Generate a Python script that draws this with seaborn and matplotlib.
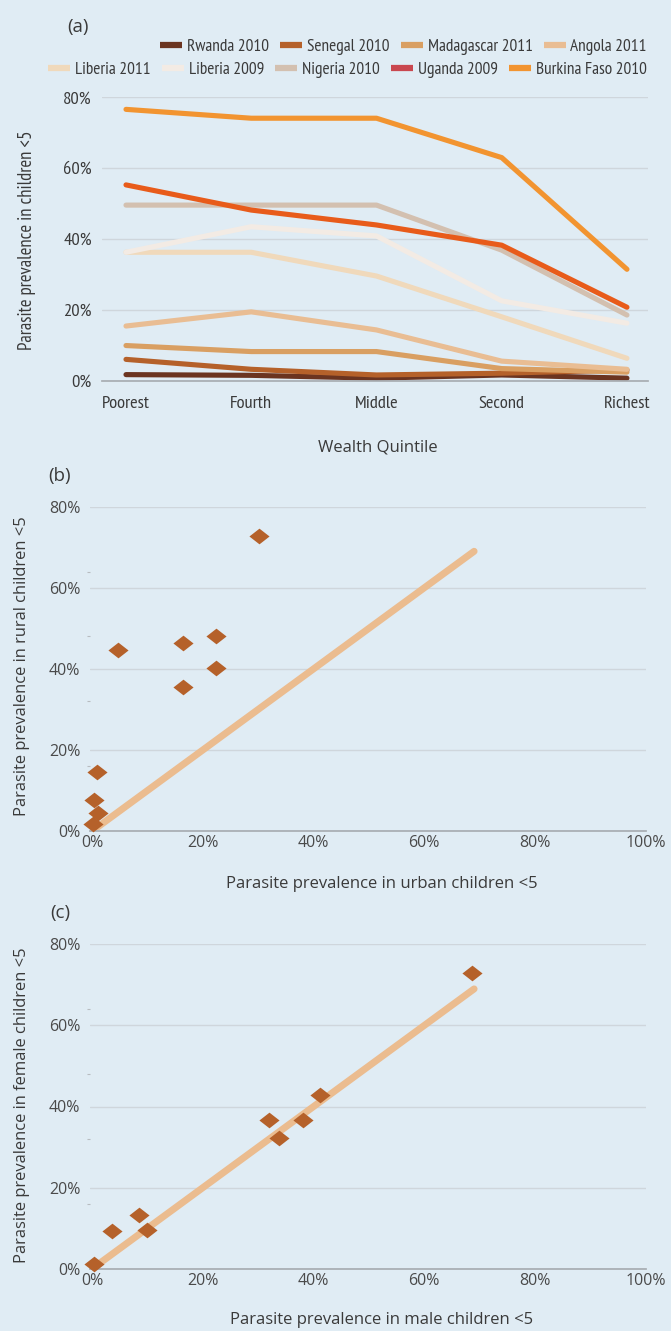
import matplotlib
matplotlib.use("Agg")
import matplotlib.pyplot as plt
import seaborn as sns
import numpy as np
import pandas as pd
from matplotlib import font_manager as fm
from matplotlib.lines import Line2D
from matplotlib.textpath import TextPath
from matplotlib.ticker import PercentFormatter, FixedLocator

# ---- data ----
quintiles = ["Poorest", "Fourth", "Middle", "Second", "Richest"]
countries = ["Rwanda 2010", "Senegal 2010", "Madagascar 2011", "Angola 2011",
             "Liberia 2011", "Liberia 2009", "Nigeria 2010", "Uganda 2009",
             "Burkina Faso 2010"]
rwanda_2010 = [1.8, 1.6, 0.8, 1.7, 0.8]
senegal_2010 = [6.1, 3.3, 1.7, 2.2, 3.1]
madagascar_2011 = [10.0, 8.3, 8.3, 3.5, 2.5]
angola_2011 = [15.5, 19.5, 14.4, 5.6, 3.3]
liberia_2011 = [36.3, 36.3, 29.6, 18.1, 6.4]
liberia_2009 = [36.3, 43.5, 40.9, 22.6, 16.3]
nigeria_2010 = [49.6, 49.6, 49.6, 36.9, 18.6]
uganda_2009 = [55.3, 48.2, 44.0, 38.3, 20.8]
burkina_2010 = [76.6, 74.1, 74.1, 63.0, 31.5]

urban = [30.1, 4.6, 16.4, 22.3, 22.3, 16.4, 0.9, 0.3, 1.1, 0.1]
rural = [72.8, 44.7, 46.3, 48.0, 40.2, 35.5, 14.5, 7.7, 4.4, 1.7]

male = [0.4, 3.5, 8.5, 9.9, 32.0, 33.8, 38.1, 41.1, 68.7]
female = [1.2, 9.4, 13.3, 9.5, 36.7, 32.3, 36.7, 42.9, 72.9]

equal_line = [1, 69]

PX = 100 / 72  # pixels per point


def path_size(text, prop):
    ext = TextPath((0, 0), text, prop=prop).get_extents()
    return ext.width, ext.height


def pick_narrow_file(target_ratio=6.3):
    """condensed, proportional, regular-weight face closest to the reference look"""
    best = None
    for f in fm.fontManager.ttflist:
        st = str(f.stretch)
        narrow = ("Narrow" in f.name or "Condensed" in f.name
                  or st in ("condensed", "semi-condensed", "extra-condensed"))
        w = f.weight if isinstance(f.weight, int) else 400
        if (not narrow or "Mono" in f.name or "Mono" in f.fname
                or f.style != "normal" or not (350 <= w <= 520)):
            continue
        try:
            prop = fm.FontProperties(fname=f.fname, size=12)
            wd, _ = path_size("Rwanda 2010", prop)
            _, ht = path_size("0", prop)
        except Exception:
            continue
        score = abs(wd / ht - target_ratio) + abs(w - 400) / 1000
        if best is None or score < best[0]:
            best = (score, f.fname)
    return None if best is None else best[1]


narrow_file = pick_narrow_file()


def narrow_prop(size):
    if narrow_file:
        return fm.FontProperties(fname=narrow_file, size=size)
    return fm.FontProperties(family=["Roboto", "DejaVu Sans"], size=size)


def reg_prop(size):
    return fm.FontProperties(family=["Open Sans", "DejaVu Sans"], size=size)


def fit_size(text, target_px, make_prop, base=12.0):
    w, _ = path_size(text, make_prop(base))
    return base * target_px / (w * PX)


leg_size = 0.5 * (fit_size("Rwanda 2010", 82, narrow_prop)
                  + fit_size("Burkina Faso 2010", 107, narrow_prop))
tick_a_size = leg_size * 1.07
ylab_a_size = fit_size("Parasite prevalence in children <5", 215, narrow_prop)
xlab_size = fit_size("Parasite prevalence in urban children <5", 310, reg_prop)
ylab_size = fit_size("Parasite prevalence in rural children <5", 298, reg_prop)

# ---- style ----
BG = "#e0ecf4"
GRID = "#cfd6dc"
TXT = "#3a3a3a"
REG = ["Open Sans", "DejaVu Sans"]

line_colors = ["#6b3420", "#b5612a", "#d99f62", "#e9bd93", "#f0d9bb",
               "#f3ebe4", "#d3c0b0", "#e85b1a", "#f29430"]
legend_colors = line_colors.copy()
legend_colors[7] = "#c9474f"
point_color = "#b5612a"
fit_color = "#ebbc8f"

sns.set_theme(style="white")
plt.rcParams["font.family"] = REG
plt.rcParams["axes.facecolor"] = BG
plt.rcParams["figure.facecolor"] = BG

series = [rwanda_2010, senegal_2010, madagascar_2011, angola_2011, liberia_2011,
          liberia_2009, nigeria_2010, uganda_2009, burkina_2010]
df = pd.DataFrame({
    "quintile": quintiles * len(countries),
    "country": np.repeat(countries, len(quintiles)),
    "value": np.concatenate(series),
})

fig = plt.figure(figsize=(6.71, 13.31), dpi=100)
W, H = 671, 1331


def box(left, right, top, bottom):
    return [left / W, 1 - bottom / H, (right - left) / W, (bottom - top) / H]


# ---- panel (a) ----
ax1 = fig.add_axes(box(101.7, 648, 97.3, 381))
sns.lineplot(data=df, x="quintile", y="value", hue="country", hue_order=countries,
             palette=line_colors, sort=False, linewidth=3.7, legend=False, ax=ax1,
             solid_capstyle="round")
ax1.set_xlim(-0.194, 4.168)
ax1.set_ylim(0, 80)
ax1.set_yticks([0, 20, 40, 60, 80])
ax1.yaxis.set_major_formatter(PercentFormatter(decimals=0))
ax1.grid(axis="y", color=GRID, linewidth=1)
ax1.set_axisbelow(True)
for s in ["top", "right", "left"]:
    ax1.spines[s].set_visible(False)
ax1.spines["bottom"].set_color("#a8adb2")
ax1.tick_params(axis="x", length=5, width=0.8, color="#a8adb2", direction="out",
                pad=6, labelcolor=TXT)
ax1.tick_params(axis="y", length=0, pad=7, labelcolor=TXT)
for lab in ax1.get_xticklabels() + ax1.get_yticklabels():
    lab.set_fontproperties(narrow_prop(tick_a_size))
ax1.set_xlabel("")
ax1.set_ylabel("")

# two legend rows: 4 entries on top, 5 below, both right-aligned
fpx = leg_size * PX
handles = [Line2D([], [], color=c, linewidth=4.5, solid_capstyle="butt")
           for c in legend_colors]
leg_kw = dict(frameon=False, prop=narrow_prop(leg_size), handlelength=22 / fpx,
              handletextpad=5 / fpx, columnspacing=11 / fpx, borderpad=0,
              borderaxespad=0, loc="center right", labelcolor=TXT)
fig.legend(handles[:4], countries[:4], ncol=4,
           bbox_to_anchor=(647 / W, 1 - 47 / H), **leg_kw)
fig.legend(handles[4:], countries[4:], ncol=5,
           bbox_to_anchor=(647 / W, 1 - 70 / H), **leg_kw)

fig.text(67 / W, 1 - 27 / H, "(a)", fontsize=13.5, color=TXT, va="center", family=REG)
fig.text(27 / W, 1 - 240 / H, "Parasite prevalence in children <5", rotation=90,
         color=TXT, va="center", ha="center", fontproperties=narrow_prop(ylab_a_size))
fig.text(378 / W, 1 - 447 / H, "Wealth Quintile", color=TXT,
         va="center", ha="center", fontproperties=reg_prop(xlab_size))

# ---- panels (b) and (c) ----
diamond = [(-1, 0), (0, 0.78), (1, 0), (0, -0.78), (-1, 0)]


def scatter_panel(ax, xs, ys):
    sns.lineplot(x=equal_line, y=equal_line, color=fit_color, linewidth=5,
                 ax=ax, solid_capstyle="round")
    sns.scatterplot(x=xs, y=ys, marker=diamond, s=210, color=point_color,
                    linewidth=0, ax=ax, clip_on=False, zorder=5)
    ax.set_xlim(-0.4, 100)
    ax.set_ylim(0, 80)
    ax.set_xticks([0, 20, 40, 60, 80, 100])
    ax.set_yticks([0, 20, 40, 60, 80])
    ax.yaxis.set_minor_locator(FixedLocator([16, 32, 48, 64]))
    ax.xaxis.set_major_formatter(PercentFormatter(decimals=0))
    ax.yaxis.set_major_formatter(PercentFormatter(decimals=0))
    ax.grid(axis="y", which="major", color=GRID, linewidth=1)
    ax.set_axisbelow(True)
    for s in ["top", "right", "left"]:
        ax.spines[s].set_visible(False)
    ax.spines["bottom"].set_color("#a8adb2")
    ax.tick_params(axis="x", length=0, pad=3, labelsize=11.5, labelcolor="#4a4a4a")
    ax.tick_params(axis="y", which="major", length=0, pad=7, labelsize=11.5,
                   labelcolor="#4a4a4a")
    ax.tick_params(axis="y", which="minor", length=2, width=0.8, color="#b8bcc0",
                   left=True)


ax2 = fig.add_axes(box(90, 645.7, 506.7, 831))
scatter_panel(ax2, urban, rural)
ax3 = fig.add_axes(box(90, 645.7, 944.3, 1268.7))
scatter_panel(ax3, male, female)

fig.text(48 / W, 1 - 476 / H, "(b)", fontsize=13.5, color=TXT, va="center", family=REG)
fig.text(22 / W, 1 - 666 / H, "Parasite prevalence in rural children <5", rotation=90,
         color=TXT, va="center", ha="center", fontproperties=reg_prop(ylab_size))
fig.text(382 / W, 1 - 884 / H, "Parasite prevalence in urban children <5",
         color=TXT, va="center", ha="center", fontproperties=reg_prop(xlab_size))

fig.text(50 / W, 1 - 913 / H, "(c)", fontsize=13.5, color=TXT, va="center", family=REG)
fig.text(22 / W, 1 - 1105 / H, "Parasite prevalence in female children <5", rotation=90,
         color=TXT, va="center", ha="center", fontproperties=reg_prop(ylab_size))
fig.text(382 / W, 1 - 1320 / H, "Parasite prevalence in male children <5",
         color=TXT, va="center", ha="center", fontproperties=reg_prop(xlab_size))

fig.savefig("out.png", dpi=100, facecolor=BG)
